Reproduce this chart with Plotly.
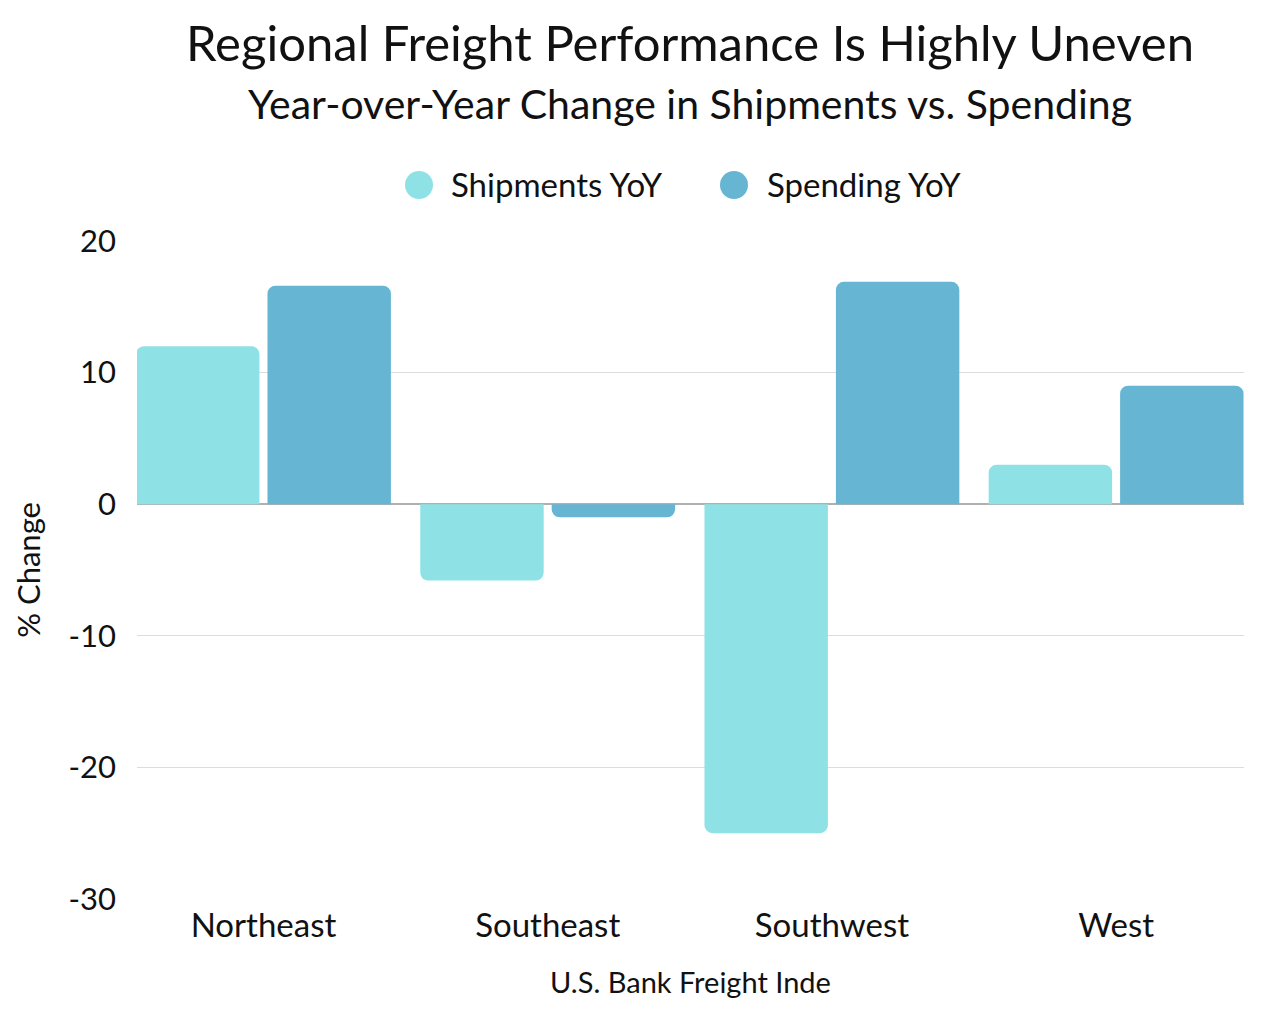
import plotly.graph_objects as go

regions = ["Northeast", "Southeast", "Southwest", "West"]
shipments_yoy = [12.0, -5.8, -25.0, 3.0]
spending_yoy = [16.6, -1.0, 16.9, 9.0]
series_names = ["Shipments YoY", "Spending YoY"]
series_colors = ["#8EE2E6", "#66B5D3"]
y_ticks = [-30, -20, -10, 0, 10, 20]
y_tick_labels = ["-30", "-20", "-10", "0", "10", "20"]

FONT = "Lato"

fig = go.Figure()
for name, vals, col in zip(series_names, [shipments_yoy, spending_yoy], series_colors):
    fig.add_trace(go.Bar(x=regions, y=vals, name=name, marker=dict(color=col, line=dict(width=0)),
                         showlegend=False, hoverinfo="x+y+name"))

# custom legend (circle markers)
L, R, T, B = 137, 1244, 241, 899
W, H = R - L, B - T
def px(x):
    return (x - L) / W
def py(y):
    return (B - y) / H

legend_items = [(419, 449), (734, 765)]
for (cx, tx), name, col in zip(legend_items, series_names, series_colors):
    fig.add_shape(type="circle", xref="paper", yref="paper", xsizemode="pixel", ysizemode="pixel",
                  xanchor=px(cx), yanchor=py(185), x0=-14, x1=14, y0=-14, y1=14,
                  fillcolor=col, line=dict(width=0))
    fig.add_annotation(x=px(tx), y=py(184), xref="paper", yref="paper", text=name, showarrow=False,
                       xanchor="left", yanchor="middle", font=dict(size=33, color="#111", family=FONT))

fig.add_annotation(x=px(690), y=py(103), xref="paper", yref="paper",
                   text="Year-over-Year Change in Shipments vs. Spending", showarrow=False,
                   xanchor="center", yanchor="middle", font=dict(size=41, color="#111", family=FONT))

fig.update_layout(
    width=1268, height=1018,
    margin=dict(l=L, r=1268 - R, t=T, b=1018 - B),
    paper_bgcolor="white", plot_bgcolor="white",
    font=dict(family=FONT, color="#111"),
    title=dict(text="Regional Freight Performance Is Highly Uneven", x=px(690), xref="paper",
               xanchor="center", y=1 - 44 / 1018, yanchor="middle",
               font=dict(size=49, color="#111", family=FONT)),
    barmode="group", bargap=0.075, bargroupgap=0.061, barcornerradius=8,
    xaxis=dict(type="category", range=[-0.445, 3.45], showgrid=False, showline=False, ticks="",
               tickfont=dict(size=33, color="#111"), ticklabelstandoff=4,
               title=dict(text="U.S. Bank Freight Inde", font=dict(size=29, color="#111"), standoff=29)),
    yaxis=dict(range=[-30, 20], tickvals=y_ticks, ticktext=y_tick_labels, showgrid=True,
               gridcolor="#DCDCDC", gridwidth=1,
               zeroline=True, zerolinecolor="#B0B0B0", zerolinewidth=2, showline=False, ticks="",
               tickfont=dict(size=31, color="#111"), ticklabelstandoff=20,
               title=dict(text="% Change", font=dict(size=31, color="#111"), standoff=18)),
)

fig.write_html("out.html")
